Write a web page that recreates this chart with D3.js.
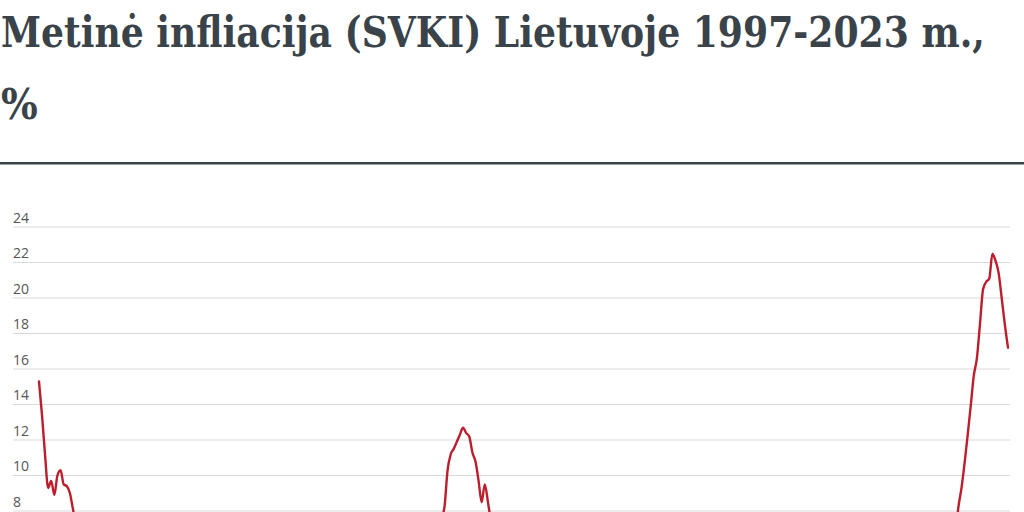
<!DOCTYPE html>
<html>
<head>
<meta charset="utf-8">
<script src="https://cdn.jsdelivr.net/npm/d3@7"></script>
<style>
  html, body { margin: 0; padding: 0; background: #fff; }
  svg { display: block; }
</style>
</head>
<body>
<svg id="chart"></svg>
<script>
const titleLines = ["Metinė infliacija (SVKI) Lietuvoje 1997-2023 m.,", "%"];

// first month of the series
const startYear = 1997;
const startMonth = 0;

// annual HICP inflation, %, one row per year (Jan..Dec)
const inflation = [
  15.3, 13.3, 11.2, 9.3, 9.7, 8.9, 10.0, 10.3, 9.5, 9.4, 9.0, 8.1, // 1997
  7.2, 6.8, 6.5, 6.0, 5.7, 5.4, 4.8, 4.2, 3.3, 2.5, 2.0, 2.2,       // 1998
  1.6, 1.6, 1.4, 1.5, 1.2, 1.0, 0.9, 1.0, 1.3, 0.9, 0.6, 0.3,       // 1999
  0.9, 1.2, 1.2, 1.2, 1.1, 1.1, 1.0, 0.8, 0.9, 1.1, 1.6, 1.5,       // 2000
  1.4, 1.3, 1.1, 1.3, 1.6, 2.2, 2.5, 2.3, 2.0, 1.6, 1.5, 1.8,       // 2001
  2.3, 1.5, 0.8, 0.6, 0.7, 0.6, 0.1, 0.5, 0.3, 0.2, -0.7, -1.0,     // 2002
  -0.3, -0.4, -0.8, -1.0, -0.9, -1.4, -1.3, -1.4, -1.0, -1.0, -1.2, -1.1, // 2003
  -1.0, -0.5, -0.5, 0.2, 1.1, 1.7, 2.2, 2.7, 2.9, 3.4, 3.2, 2.8,    // 2004
  2.9, 3.0, 3.1, 2.9, 2.2, 2.6, 2.6, 2.3, 2.6, 3.1, 3.0, 3.0,       // 2005
  3.6, 3.5, 3.3, 3.5, 3.8, 4.0, 4.2, 4.8, 4.3, 3.7, 4.5, 4.5,       // 2006
  4.3, 4.0, 4.6, 5.1, 5.0, 5.0, 5.1, 5.5, 7.0, 7.2, 7.6, 8.2,       // 2007
  10.3, 11.2, 11.5, 11.9, 12.3, 12.7, 12.4, 12.2, 11.3, 10.8, 9.7, 8.5, // 2008
  9.5, 8.5, 7.4, 5.9, 4.9, 3.9, 2.2, 2.2, 2.3, 1.0, 1.3, 1.2,       // 2009
  -0.4, -0.5, -0.4, 0.1, 0.5, 1.0, 1.9, 2.2, 2.6, 2.7, 2.9, 3.6,    // 2010
  3.7, 3.2, 3.3, 4.1, 4.5, 5.0, 4.8, 4.3, 4.6, 4.4, 4.0, 3.5,       // 2011
  3.4, 3.7, 3.4, 3.2, 3.3, 2.9, 3.0, 3.3, 3.3, 3.2, 3.1, 2.9,       // 2012
  2.6, 2.1, 1.6, 1.3, 1.3, 1.4, 1.1, 0.4, 0.3, 0.2, 0.3, 0.4,       // 2013
  0.5, 0.3, 0.6, 0.3, 0.6, 0.6, 0.6, 0.2, 0.1, 0.0, 0.1, 0.0,       // 2014
  -0.7, -0.7, -0.6, -0.4, -0.2, -0.3, -0.3, -0.6, -0.9, -0.5, -0.4, -0.1, // 2015
  0.6, 0.8, 0.9, 0.5, 0.5, 0.6, 0.8, 1.7, 1.7, 1.6, 1.8, 2.0,       // 2016
  3.0, 3.2, 3.0, 3.8, 3.5, 3.1, 3.9, 4.6, 4.6, 4.2, 3.8, 3.8,       // 2017
  3.6, 3.1, 2.5, 2.6, 2.8, 2.6, 2.4, 2.2, 2.8, 3.2, 2.2, 1.8,       // 2018
  1.5, 2.3, 2.5, 2.7, 2.3, 2.3, 2.4, 2.1, 2.1, 1.8, 2.6, 2.7,       // 2019
  3.3, 2.9, 2.2, 1.3, 1.2, 0.9, 0.8, 0.7, 0.9, 0.7, 0.5, 0.0,       // 2020
  0.2, 0.9, 1.5, 2.4, 3.5, 3.5, 4.7, 5.0, 6.4, 8.2, 9.3, 10.7,      // 2021
  12.3, 14.0, 15.6, 16.6, 18.5, 20.5, 20.9, 21.1, 22.5, 22.1, 21.4, 20.0, // 2022
  18.5, 17.2                                                         // 2023
];

const yTicks = [-2, 0, 2, 4, 6, 8, 10, 12, 14, 16, 18, 20, 22, 24];

const width = 1024;
const height = 512;

const data = inflation.map((v, i) => ({
  date: new Date(startYear, startMonth + i, 1),
  value: v
}));

const svg = d3.select("#chart")
  .attr("width", width)
  .attr("height", height)
  .attr("viewBox", [0, 0, width, height]);

// title; the long first line is squeezed to the width it has in the original
const titleWidth = 984;
svg.append("g")
  .selectAll("text")
  .data(titleLines)
  .join("text")
  .attr("font-family", "'DejaVu Serif Condensed', 'DejaVu Serif', serif")
  .attr("font-stretch", "condensed")
  .attr("font-weight", "bold")
  .attr("font-size", 43)
  .attr("fill", "#3a4349")
  .text(d => d)
  .each(function (d, i) {
    const sx = Math.min(1, titleWidth / this.getComputedTextLength());
    d3.select(this).attr("transform", `translate(1,${47 + i * 72}) scale(${sx},1)`);
  });

// rule under title
svg.append("rect")
  .attr("x", 0)
  .attr("y", 162)
  .attr("width", width)
  .attr("height", 2.5)
  .attr("fill", "#3a4349");

const x = d3.scaleTime()
  .domain(d3.extent(data, d => d.date))
  .range([39, 1008]);

const y = d3.scaleLinear()
  .domain([-2, 24])
  .range([688.5, 227]);

// gridlines + labels (labels only where they fall inside the frame)
const grid = svg.append("g")
  .selectAll("g")
  .data(yTicks)
  .join("g")
  .attr("transform", d => `translate(0,${y(d)})`);

grid.append("line")
  .attr("x1", 13)
  .attr("x2", 1010)
  .attr("stroke", "#d9d9d9")
  .attr("stroke-width", 1.2);

grid.filter(d => y(d) < height)
  .append("text")
  .attr("x", 13)
  .attr("y", -4.5)
  .attr("font-family", "'Open Sans', sans-serif")
  .attr("font-size", 14)
  .attr("fill", "#555")
  .text(d => d);

// line
const line = d3.line()
  .x(d => x(d.date))
  .y(d => y(d.value))
  .curve(d3.curveMonotoneX);

svg.append("path")
  .datum(data)
  .attr("fill", "none")
  .attr("stroke", "#bd1e2d")
  .attr("stroke-width", 2.4)
  .attr("stroke-linejoin", "round")
  .attr("stroke-linecap", "round")
  .attr("d", line);
</script>
</body>
</html>
